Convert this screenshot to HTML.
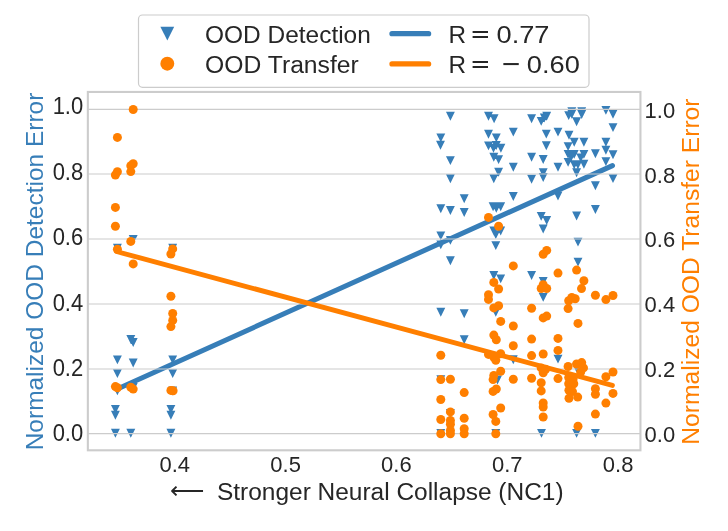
<!DOCTYPE html>
<html lang="en"><head><meta charset="utf-8"><title>OOD Detection vs Transfer</title>
<style>html,body{margin:0;padding:0;background:#fff}body{width:728px;height:531px;overflow:hidden}svg{display:block}text{font-family:"Liberation Sans",sans-serif;fill:#262626}</style></head><body>
<svg width="728" height="531" viewBox="0 0 728 531" style="will-change:transform">
<rect width="728" height="531" fill="#fff"/>
<path fill="#377eb8" d="M128.75 235.05h8.90l-4.45 8.90zM112.95 243.85h8.90l-4.45 8.90zM168.25 243.85h8.90l-4.45 8.90zM126.35 335.05h8.90l-4.45 8.90zM128.75 338.05h8.90l-4.45 8.90zM112.95 355.45h8.90l-4.45 8.90zM128.75 358.55h8.90l-4.45 8.90zM168.25 355.45h8.90l-4.45 8.90zM112.95 369.15h8.90l-4.45 8.90zM168.25 369.15h8.90l-4.45 8.90zM112.95 386.25h8.90l-4.45 8.90zM128.75 383.05h8.90l-4.45 8.90zM168.25 386.55h8.90l-4.45 8.90zM110.95 404.95h8.90l-4.45 8.90zM110.95 410.75h8.90l-4.45 8.90zM166.45 404.95h8.90l-4.45 8.90zM166.45 410.75h8.90l-4.45 8.90zM110.95 428.85h8.90l-4.45 8.90zM126.35 428.85h8.90l-4.45 8.90zM166.45 428.85h8.90l-4.45 8.90zM445.95 111.85h8.90l-4.45 8.90zM484.05 111.75h8.90l-4.45 8.90zM489.65 114.25h8.90l-4.45 8.90zM508.85 127.65h8.90l-4.45 8.90zM484.05 129.75h8.90l-4.45 8.90zM436.35 133.45h8.90l-4.45 8.90zM491.85 133.45h8.90l-4.45 8.90zM436.05 140.75h8.90l-4.45 8.90zM484.05 141.45h8.90l-4.45 8.90zM491.85 141.05h8.90l-4.45 8.90zM489.05 143.75h8.90l-4.45 8.90zM496.45 143.75h8.90l-4.45 8.90zM445.95 156.15h8.90l-4.45 8.90zM489.35 152.75h8.90l-4.45 8.90zM494.15 155.15h8.90l-4.45 8.90zM508.85 162.75h8.90l-4.45 8.90zM494.15 167.75h8.90l-4.45 8.90zM527.15 114.25h8.90l-4.45 8.90zM542.25 111.75h8.90l-4.45 8.90zM539.85 113.55h8.90l-4.45 8.90zM536.75 116.95h8.90l-4.45 8.90zM567.35 107.35h8.90l-4.45 8.90zM567.35 109.85h8.90l-4.45 8.90zM577.25 107.35h8.90l-4.45 8.90zM564.25 111.15h8.90l-4.45 8.90zM577.25 110.05h8.90l-4.45 8.90zM572.15 117.25h8.90l-4.45 8.90zM601.45 105.95h8.90l-4.45 8.90zM608.55 109.85h8.90l-4.45 8.90zM608.55 123.15h8.90l-4.45 8.90zM541.85 129.65h8.90l-4.45 8.90zM553.55 127.65h8.90l-4.45 8.90zM564.55 130.75h8.90l-4.45 8.90zM569.75 137.85h8.90l-4.45 8.90zM579.45 137.85h8.90l-4.45 8.90zM601.45 137.85h8.90l-4.45 8.90zM541.85 141.35h8.90l-4.45 8.90zM563.65 142.15h8.90l-4.45 8.90zM601.45 145.85h8.90l-4.45 8.90zM527.15 152.75h8.90l-4.45 8.90zM538.75 155.05h8.90l-4.45 8.90zM563.65 149.95h8.90l-4.45 8.90zM569.75 149.95h8.90l-4.45 8.90zM579.45 149.95h8.90l-4.45 8.90zM566.65 152.75h8.90l-4.45 8.90zM576.25 153.45h8.90l-4.45 8.90zM590.95 149.25h8.90l-4.45 8.90zM608.55 150.35h8.90l-4.45 8.90zM601.45 157.15h8.90l-4.45 8.90zM563.65 157.95h8.90l-4.45 8.90zM569.75 160.25h8.90l-4.45 8.90zM573.45 160.25h8.90l-4.45 8.90zM579.45 159.85h8.90l-4.45 8.90zM553.55 162.75h8.90l-4.45 8.90zM445.95 174.35h8.90l-4.45 8.90zM489.35 174.35h8.90l-4.45 8.90zM459.75 194.35h8.90l-4.45 8.90zM508.85 192.05h8.90l-4.45 8.90zM436.35 204.35h8.90l-4.45 8.90zM445.95 206.05h8.90l-4.45 8.90zM459.75 208.05h8.90l-4.45 8.90zM488.65 202.35h8.90l-4.45 8.90zM491.85 203.95h8.90l-4.45 8.90zM496.25 202.35h8.90l-4.45 8.90zM489.35 226.55h8.90l-4.45 8.90zM496.25 226.55h8.90l-4.45 8.90zM436.35 231.45h8.90l-4.45 8.90zM538.75 168.25h8.90l-4.45 8.90zM538.75 173.05h8.90l-4.45 8.90zM527.15 174.85h8.90l-4.45 8.90zM572.15 168.25h8.90l-4.45 8.90zM608.55 174.15h8.90l-4.45 8.90zM590.95 181.25h8.90l-4.45 8.90zM553.55 191.55h8.90l-4.45 8.90zM590.95 205.05h8.90l-4.45 8.90zM572.15 211.55h8.90l-4.45 8.90zM536.75 211.95h8.90l-4.45 8.90zM542.25 216.05h8.90l-4.45 8.90zM538.75 224.55h8.90l-4.45 8.90zM445.95 235.95h8.90l-4.45 8.90zM436.35 240.45h8.90l-4.45 8.90zM491.35 241.15h8.90l-4.45 8.90zM491.35 230.15h8.90l-4.45 8.90zM445.95 256.35h8.90l-4.45 8.90zM489.35 271.05h8.90l-4.45 8.90zM496.25 274.45h8.90l-4.45 8.90zM573.55 237.65h8.90l-4.45 8.90zM573.55 257.65h8.90l-4.45 8.90zM527.15 271.05h8.90l-4.45 8.90zM538.75 276.95h8.90l-4.45 8.90zM538.75 292.95h8.90l-4.45 8.90zM436.35 307.85h8.90l-4.45 8.90zM459.75 309.25h8.90l-4.45 8.90zM491.35 307.85h8.90l-4.45 8.90zM459.75 335.35h8.90l-4.45 8.90zM508.85 355.25h8.90l-4.45 8.90zM553.55 354.65h8.90l-4.45 8.90zM436.35 375.15h8.90l-4.45 8.90zM445.95 408.95h8.90l-4.45 8.90zM493.05 375.55h8.90l-4.45 8.90zM572.15 363.55h8.90l-4.45 8.90zM436.35 428.95h8.90l-4.45 8.90zM491.35 428.95h8.90l-4.45 8.90zM537.05 428.95h8.90l-4.45 8.90zM572.15 428.95h8.90l-4.45 8.90zM590.95 428.95h8.90l-4.45 8.90z"/>
<line x1="118.4" y1="388.5" x2="612.5" y2="165.6" stroke="#377eb8" stroke-width="5.0" stroke-linecap="round"/>
<g stroke="#cccccc" stroke-width="1.1"><line x1="87.85" x2="640.45" y1="433.6" y2="433.6"/><line x1="87.85" x2="640.45" y1="369.0" y2="369.0"/><line x1="87.85" x2="640.45" y1="304.0" y2="304.0"/><line x1="87.85" x2="640.45" y1="239.0" y2="239.0"/><line x1="87.85" x2="640.45" y1="174.05" y2="174.05"/><line x1="87.85" x2="640.45" y1="109.4" y2="109.4"/></g>
<g fill="#ff7f00"><circle cx="133.2" cy="109.5" r="4.5"/><circle cx="117.4" cy="137.4" r="4.5"/><circle cx="133.2" cy="163.8" r="4.5"/><circle cx="130.8" cy="165.8" r="4.5"/><circle cx="130.8" cy="171.6" r="4.5"/><circle cx="117.4" cy="171.7" r="4.5"/><circle cx="115.4" cy="175.0" r="4.5"/><circle cx="115.4" cy="207.4" r="4.5"/><circle cx="115.4" cy="226.2" r="4.5"/><circle cx="130.8" cy="241.4" r="4.5"/><circle cx="117.4" cy="249.2" r="4.5"/><circle cx="133.2" cy="263.9" r="4.5"/><circle cx="172.7" cy="248.9" r="4.5"/><circle cx="170.9" cy="254.0" r="4.5"/><circle cx="170.9" cy="296.2" r="4.5"/><circle cx="172.7" cy="313.5" r="4.5"/><circle cx="172.7" cy="320.4" r="4.5"/><circle cx="170.9" cy="326.6" r="4.5"/><circle cx="115.4" cy="386.6" r="4.5"/><circle cx="117.4" cy="387.7" r="4.5"/><circle cx="130.8" cy="387.3" r="4.5"/><circle cx="133.2" cy="389.1" r="4.5"/><circle cx="170.9" cy="390.4" r="4.5"/><circle cx="173.1" cy="390.8" r="4.5"/><circle cx="488.5" cy="217.4" r="4.5"/><circle cx="498.6" cy="226.3" r="4.5"/><circle cx="513.3" cy="265.9" r="4.5"/><circle cx="493.8" cy="282.4" r="4.5"/><circle cx="498.6" cy="289.0" r="4.5"/><circle cx="488.5" cy="294.7" r="4.5"/><circle cx="546.7" cy="250.4" r="4.5"/><circle cx="543.2" cy="254.2" r="4.5"/><circle cx="558.0" cy="273.1" r="4.5"/><circle cx="576.6" cy="270.1" r="4.5"/><circle cx="583.9" cy="280.7" r="4.5"/><circle cx="581.5" cy="288.6" r="4.5"/><circle cx="543.2" cy="284.8" r="4.5"/><circle cx="541.2" cy="288.5" r="4.5"/><circle cx="546.7" cy="288.5" r="4.5"/><circle cx="571.8" cy="297.4" r="4.5"/><circle cx="575.2" cy="298.8" r="4.5"/><circle cx="595.4" cy="295.2" r="4.5"/><circle cx="605.9" cy="299.6" r="4.5"/><circle cx="613.0" cy="295.5" r="4.5"/><circle cx="488.5" cy="299.4" r="4.5"/><circle cx="493.8" cy="307.9" r="4.5"/><circle cx="498.6" cy="305.8" r="4.5"/><circle cx="500.7" cy="321.4" r="4.5"/><circle cx="513.3" cy="326.0" r="4.5"/><circle cx="493.8" cy="335.1" r="4.5"/><circle cx="496.3" cy="339.8" r="4.5"/><circle cx="513.3" cy="345.7" r="4.5"/><circle cx="440.8" cy="355.3" r="4.5"/><circle cx="500.7" cy="353.7" r="4.5"/><circle cx="488.5" cy="354.4" r="4.5"/><circle cx="493.8" cy="357.2" r="4.5"/><circle cx="495.8" cy="360.3" r="4.5"/><circle cx="568.7" cy="300.7" r="4.5"/><circle cx="568.1" cy="308.6" r="4.5"/><circle cx="531.6" cy="308.3" r="4.5"/><circle cx="546.7" cy="316.1" r="4.5"/><circle cx="543.2" cy="317.9" r="4.5"/><circle cx="578.0" cy="323.4" r="4.5"/><circle cx="531.6" cy="339.1" r="4.5"/><circle cx="558.0" cy="338.4" r="4.5"/><circle cx="558.0" cy="350.4" r="4.5"/><circle cx="531.6" cy="355.6" r="4.5"/><circle cx="543.2" cy="354.0" r="4.5"/><circle cx="581.7" cy="362.6" r="4.5"/><circle cx="576.6" cy="364.0" r="4.5"/><circle cx="500.7" cy="371.3" r="4.5"/><circle cx="493.8" cy="375.4" r="4.5"/><circle cx="493.1" cy="379.6" r="4.5"/><circle cx="513.3" cy="379.2" r="4.5"/><circle cx="440.8" cy="379.6" r="4.5"/><circle cx="450.4" cy="379.2" r="4.5"/><circle cx="464.2" cy="392.6" r="4.5"/><circle cx="496.3" cy="389.0" r="4.5"/><circle cx="493.1" cy="391.4" r="4.5"/><circle cx="440.8" cy="399.5" r="4.5"/><circle cx="500.7" cy="408.0" r="4.5"/><circle cx="450.4" cy="411.9" r="4.5"/><circle cx="493.1" cy="414.5" r="4.5"/><circle cx="440.8" cy="419.5" r="4.5"/><circle cx="450.4" cy="420.5" r="4.5"/><circle cx="464.2" cy="418.2" r="4.5"/><circle cx="495.8" cy="421.4" r="4.5"/><circle cx="568.1" cy="366.5" r="4.5"/><circle cx="583.5" cy="367.9" r="4.5"/><circle cx="580.7" cy="372.0" r="4.5"/><circle cx="541.2" cy="367.9" r="4.5"/><circle cx="545.6" cy="369.3" r="4.5"/><circle cx="543.2" cy="372.7" r="4.5"/><circle cx="531.6" cy="378.2" r="4.5"/><circle cx="558.0" cy="378.6" r="4.5"/><circle cx="541.2" cy="382.7" r="4.5"/><circle cx="541.2" cy="390.9" r="4.5"/><circle cx="568.7" cy="377.5" r="4.5"/><circle cx="573.1" cy="378.9" r="4.5"/><circle cx="568.7" cy="383.7" r="4.5"/><circle cx="573.8" cy="383.7" r="4.5"/><circle cx="568.9" cy="390.2" r="4.5"/><circle cx="572.5" cy="391.6" r="4.5"/><circle cx="569.0" cy="398.3" r="4.5"/><circle cx="577.7" cy="397.1" r="4.5"/><circle cx="543.2" cy="403.0" r="4.5"/><circle cx="543.2" cy="407.0" r="4.5"/><circle cx="543.2" cy="417.0" r="4.5"/><circle cx="595.4" cy="388.8" r="4.5"/><circle cx="595.4" cy="394.2" r="4.5"/><circle cx="605.9" cy="376.8" r="4.5"/><circle cx="613.0" cy="372.0" r="4.5"/><circle cx="613.0" cy="393.4" r="4.5"/><circle cx="605.9" cy="403.1" r="4.5"/><circle cx="595.4" cy="414.1" r="4.5"/><circle cx="578.0" cy="426.3" r="4.5"/><circle cx="450.4" cy="424.2" r="4.5"/><circle cx="464.2" cy="428.7" r="4.5"/><circle cx="450.4" cy="430.4" r="4.5"/><circle cx="440.8" cy="433.8" r="4.5"/><circle cx="450.4" cy="433.8" r="4.5"/><circle cx="464.2" cy="433.8" r="4.5"/><circle cx="495.8" cy="433.8" r="4.5"/></g>
<line x1="116.5" y1="251.5" x2="612.4" y2="385.4" stroke="#ff7f00" stroke-width="4.9" stroke-linecap="round"/>
<rect x="87.85" y="91.95" width="552.6" height="358.35" fill="none" stroke="#cccccc" stroke-width="2.1"/>
<text transform="translate(83.2 441.4) scale(1 1.08)" font-size="22" text-anchor="end">0.0</text>
<text transform="translate(644.6 441.9) scale(1 1.045)" font-size="22">0.0</text>
<text transform="translate(83.2 375.9) scale(1 1.08)" font-size="22" text-anchor="end">0.2</text>
<text transform="translate(644.6 377.0) scale(1 1.045)" font-size="22">0.2</text>
<text transform="translate(83.2 310.5) scale(1 1.08)" font-size="22" text-anchor="end">0.4</text>
<text transform="translate(644.6 312.2) scale(1 1.045)" font-size="22">0.4</text>
<text transform="translate(83.2 245.0) scale(1 1.08)" font-size="22" text-anchor="end">0.6</text>
<text transform="translate(644.6 247.3) scale(1 1.045)" font-size="22">0.6</text>
<text transform="translate(83.2 179.6) scale(1 1.08)" font-size="22" text-anchor="end">0.8</text>
<text transform="translate(644.6 182.5) scale(1 1.045)" font-size="22">0.8</text>
<text transform="translate(83.2 114.1) scale(1 1.08)" font-size="22" text-anchor="end">1.0</text>
<text transform="translate(644.6 117.6) scale(1 1.045)" font-size="22">1.0</text>
<text transform="translate(174.8 471.75) scale(1 1.045)" font-size="22" text-anchor="middle">0.4</text>
<text transform="translate(285.6 471.75) scale(1 1.045)" font-size="22" text-anchor="middle">0.5</text>
<text transform="translate(396.4 471.75) scale(1 1.045)" font-size="22" text-anchor="middle">0.6</text>
<text transform="translate(507.3 471.75) scale(1 1.045)" font-size="22" text-anchor="middle">0.7</text>
<text transform="translate(618.1 471.75) scale(1 1.045)" font-size="22" text-anchor="middle">0.8</text>
<text x="170" y="499.2" font-size="24">⟵</text>
<text x="217" y="499.5" font-size="24.46">Stronger Neural Collapse (NC1)</text>
<text transform="translate(43.0 450.3) rotate(-90)" font-size="24.48" style="fill:#377eb8">Normalized OOD Detection Error</text>
<text transform="translate(699.0 444.7) rotate(-90)" font-size="24.63" style="fill:#ff7f00">Normalized OOD Transfer Error</text>
<rect x="138.5" y="15" width="450.5" height="72.3" rx="4" fill="#fff" stroke="#cccccc" stroke-width="1.2"/>
<path fill="#377eb8" d="M160.4 26.7h13.8l-6.9 13.7z"/>
<circle cx="167.3" cy="63.7" r="6.95" fill="#ff7f00"/>
<text x="205.1" y="42.6" font-size="24.45">OOD Detection</text>
<text x="205.1" y="72.9" font-size="24.7">OOD Transfer</text>
<line x1="392" x2="428.6" y1="33.7" y2="33.7" stroke="#377eb8" stroke-width="5.3" stroke-linecap="round"/>
<line x1="392" x2="428.6" y1="63.9" y2="63.9" stroke="#ff7f00" stroke-width="5.3" stroke-linecap="round"/>
<text x="448.5" y="42.9" font-size="24.3">R</text>
<text x="469.9" y="41.6" style="font-family:'DejaVu Sans',sans-serif" font-size="24.6">=</text>
<text x="496.5" y="42.9" font-size="24.3" textLength="53" lengthAdjust="spacingAndGlyphs">0.77</text>
<text x="448.5" y="72.9" font-size="24.3">R</text>
<text x="469.9" y="71.6" style="font-family:'DejaVu Sans',sans-serif" font-size="24.6">=</text>
<text x="500.7" y="71.8" style="font-family:'DejaVu Sans',sans-serif" font-size="24.6">−</text>
<text x="526.8" y="72.9" font-size="24.3" textLength="53" lengthAdjust="spacingAndGlyphs">0.60</text>
</svg></body></html>
